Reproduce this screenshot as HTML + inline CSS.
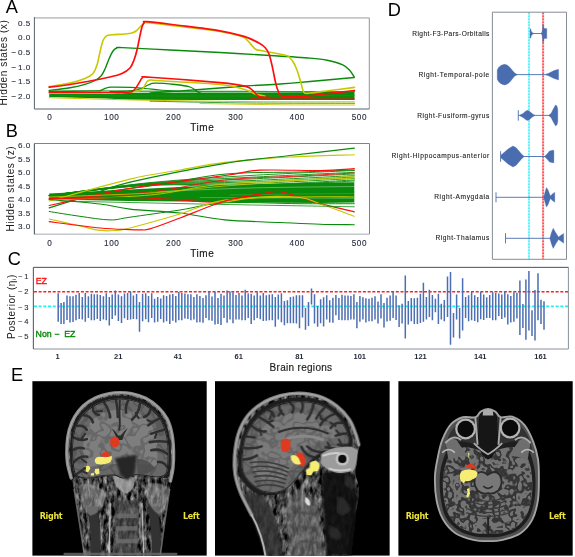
<!DOCTYPE html>
<html><head><meta charset="utf-8"><title>Figure</title>
<style>html,body{margin:0;padding:0;background:#fff;width:575px;height:557px;overflow:hidden}body{position:relative}</style>
</head><body>
<svg width="575" height="557" viewBox="0 0 575 557" style="position:absolute;left:0;top:0"><rect width="575" height="557" fill="#fff"/><text x="5.8" y="12.8" font-size="18.2" fill="#000" text-anchor="start" font-family="'Liberation Sans', sans-serif" >A</text><text x="5.7" y="136.7" font-size="18.2" fill="#000" text-anchor="start" font-family="'Liberation Sans', sans-serif" >B</text><text x="7.8" y="265.0" font-size="18.2" fill="#000" text-anchor="start" font-family="'Liberation Sans', sans-serif" >C</text><text x="387.8" y="16.1" font-size="18.2" fill="#000" text-anchor="start" font-family="'Liberation Sans', sans-serif" >D</text><text x="10.9" y="380.9" font-size="18.2" fill="#000" text-anchor="start" font-family="'Liberation Sans', sans-serif" >E</text><g id="A"><path d="M49.2,94 L105,94 L130,92.8 L200,92.6 L250,92.4 L300,92.2 L354.5,91.5 L354.5,100 L300,100 L250,100 L200,99.9 L130,99.8 L105,98.4 L49.2,97Z" fill="#0a8a0a"/><path d="M49.2,91.0 C57.7,91.0 86.5,90.9 100.0,90.9 C113.5,90.9 113.3,91.1 130.0,91.2 C146.7,91.3 162.6,91.4 200.0,91.4 C237.4,91.5 328.8,91.5 354.5,91.5" fill="none" stroke="#3a9a3a" stroke-width="1.2" stroke-linejoin="round" stroke-linecap="round" opacity="1"/><path d="M60.0,95.5 C83.3,95.6 150.9,96.0 200.0,96.0 C249.1,96.0 328.8,95.6 354.5,95.5" fill="none" stroke="#2f8f2f" stroke-width="0.6" stroke-linejoin="round" stroke-linecap="round" opacity="0.8"/><path d="M49.2,97.7 C65.2,98.1 111.5,99.6 145.0,100.2 C178.5,100.8 215.1,101.3 250.0,101.6 C284.9,101.9 337.1,101.8 354.5,101.8" fill="none" stroke="#c8c800" stroke-width="1.0" stroke-linejoin="round" stroke-linecap="round" opacity="1"/><path d="M150.0,101.2 C166.7,101.5 215.9,102.7 250.0,103.0 C284.1,103.3 337.1,103.2 354.5,103.3" fill="none" stroke="#0a8a0a" stroke-width="0.8" stroke-linejoin="round" stroke-linecap="round" opacity="1"/><path d="M200.0,103.5 C213.3,103.7 254.2,104.5 280.0,104.8 C305.8,105.0 342.1,105.0 354.5,105.0" fill="none" stroke="#c8c800" stroke-width="0.9" stroke-linejoin="round" stroke-linecap="round" opacity="1"/><path d="M250.0,98.8 C258.3,98.8 282.6,98.9 300.0,98.9 C317.4,98.9 345.4,98.9 354.5,98.9" fill="none" stroke="#ff0d0d" stroke-width="0.8" stroke-linejoin="round" stroke-linecap="round" opacity="1"/><path d="M49.2,91.5 C56.8,91.4 86.4,91.2 95.0,91.0 C103.6,90.8 99.2,90.7 101.0,90.2 C102.8,89.7 104.3,88.7 106.0,88.2 C107.7,87.7 106.8,87.2 111.0,87.1 C115.2,87.0 125.3,87.2 131.0,87.4 C136.7,87.6 140.2,88.1 145.0,88.5 C149.8,88.9 154.2,89.5 160.0,90.0 C165.8,90.5 176.7,91.2 180.0,91.5" fill="none" stroke="#0a8a0a" stroke-width="1.2" stroke-linejoin="round" stroke-linecap="round" opacity="1"/><path d="M110.0,91.5 C113.3,91.4 125.0,91.4 130.0,91.0 C135.0,90.6 137.0,90.0 140.0,89.0 C143.0,88.0 145.5,86.0 148.0,85.0 C150.5,84.0 150.5,83.3 155.0,83.2 C159.5,83.1 169.2,83.9 175.0,84.5 C180.8,85.1 186.2,85.8 190.0,87.0 C193.8,88.2 195.5,90.7 198.0,92.0 C200.5,93.3 203.8,94.5 205.0,95.0" fill="none" stroke="#0a8a0a" stroke-width="1.3" stroke-linejoin="round" stroke-linecap="round" opacity="1"/><path d="M150.0,93.0 C158.3,92.4 184.0,90.7 200.0,89.5 C216.0,88.3 232.5,86.9 245.8,86.0 C259.1,85.1 269.3,84.8 280.0,84.0 C290.7,83.2 297.6,82.6 310.0,81.5 C322.4,80.4 346.8,78.2 354.2,77.5" fill="none" stroke="#0a8a0a" stroke-width="1.3" stroke-linejoin="round" stroke-linecap="round" opacity="1"/><path d="M49.2,90.4 C52.7,90.0 64.0,88.8 70.0,87.8 C76.0,86.8 80.8,85.6 85.0,84.4 C89.2,83.2 92.3,81.9 95.0,80.5 C97.7,79.1 99.3,77.9 101.0,76.0 C102.7,74.1 103.7,71.8 105.0,69.0 C106.3,66.2 107.7,62.0 109.0,59.0 C110.3,56.0 111.7,52.8 113.0,51.0 C114.3,49.2 115.3,48.6 116.8,48.0 C118.3,47.4 113.1,47.3 122.0,47.6 C130.9,47.9 153.7,49.2 170.0,50.0 C186.3,50.8 203.3,51.6 220.0,52.5 C236.7,53.4 255.0,54.6 270.0,55.5 C285.0,56.4 300.5,57.3 310.0,58.1 C319.5,58.9 321.8,59.1 327.2,60.2 C332.6,61.3 338.5,63.0 342.3,64.7 C346.1,66.4 347.8,68.4 349.8,70.4 C351.8,72.5 353.5,75.9 354.2,77.0" fill="none" stroke="#0a8a0a" stroke-width="1.4" stroke-linejoin="round" stroke-linecap="round" opacity="1"/><path d="M120.0,93.0 C123.0,92.7 134.1,91.9 138.0,91.0 C141.9,90.1 141.9,89.2 143.6,87.5 C145.3,85.8 145.6,81.6 148.3,80.5 C151.0,79.4 148.1,80.1 160.0,80.8 C171.9,81.5 206.0,83.1 220.0,84.5 C234.0,85.9 238.2,87.6 244.0,89.2 C249.8,90.8 251.5,92.9 255.0,94.0 C258.5,95.1 263.3,95.7 265.0,96.0" fill="none" stroke="#c8c800" stroke-width="1.4" stroke-linejoin="round" stroke-linecap="round" opacity="1"/><path d="M49.2,92.7 C57.7,92.7 86.9,92.7 100.0,92.6 C113.1,92.5 122.3,92.6 128.0,92.2 C133.7,91.8 132.2,91.5 134.0,90.0 C135.8,88.5 137.6,85.1 139.0,83.0 C140.4,80.9 140.8,78.6 142.6,77.6 C144.4,76.6 137.1,76.4 150.0,77.2 C162.9,78.0 204.0,81.1 220.0,82.6 C236.0,84.1 240.2,85.0 245.8,86.4 C251.4,87.8 251.2,89.4 253.4,91.1 C255.6,92.8 256.2,95.4 259.0,96.5 C261.8,97.6 268.2,97.3 270.0,97.5" fill="none" stroke="#ff0d0d" stroke-width="1.6" stroke-linejoin="round" stroke-linecap="round" opacity="1"/><path d="M49.2,86.6 C52.7,86.0 64.0,84.3 70.0,83.0 C76.0,81.7 81.2,80.1 85.0,78.5 C88.8,76.9 91.0,75.8 93.0,73.5 C95.0,71.2 95.8,68.6 97.0,65.0 C98.2,61.4 99.0,56.1 100.0,52.0 C101.0,47.9 101.9,43.2 103.0,40.5 C104.1,37.8 105.0,36.8 106.5,35.8 C108.0,34.8 108.9,35.1 112.0,34.8 C115.1,34.5 121.7,34.3 125.0,34.0 C128.3,33.7 130.2,33.5 132.0,33.0 C133.8,32.5 134.7,32.0 136.0,31.0 C137.3,30.0 138.7,28.2 140.0,27.0 C141.3,25.8 142.3,24.2 143.6,23.5 C144.9,22.8 141.9,22.1 148.0,22.6 C154.1,23.1 168.0,25.0 180.0,26.5 C192.0,28.0 209.7,29.8 220.0,31.5 C230.3,33.2 237.3,34.9 242.0,36.5 C246.7,38.1 245.8,38.9 248.0,41.0 C250.2,43.1 253.0,47.4 255.3,49.0 C257.6,50.6 257.0,49.7 262.0,50.7 C267.0,51.8 280.8,54.1 285.5,55.3 C290.2,56.5 288.7,56.8 290.0,58.0 C291.3,59.2 292.3,60.5 293.5,62.5 C294.7,64.5 295.8,66.8 297.0,70.0 C298.2,73.2 299.4,78.0 300.6,81.7 C301.8,85.4 302.4,90.5 304.0,92.4 C305.6,94.3 305.7,93.3 310.0,93.0 C314.3,92.7 322.6,91.4 330.0,90.5 C337.4,89.6 350.4,87.9 354.5,87.4" fill="none" stroke="#c8c800" stroke-width="1.6" stroke-linejoin="round" stroke-linecap="round" opacity="1"/><path d="M49.2,87.2 C52.7,86.8 63.2,85.5 70.0,84.5 C76.8,83.5 83.3,82.2 90.0,81.0 C96.7,79.8 104.7,78.2 110.0,77.0 C115.3,75.8 118.7,75.0 122.0,73.5 C125.3,72.0 128.0,70.2 130.0,68.0 C132.0,65.8 132.8,63.0 134.0,60.0 C135.2,57.0 136.1,53.7 137.0,50.0 C137.9,46.3 138.7,41.8 139.5,38.0 C140.3,34.2 141.2,29.5 142.0,27.0 C142.8,24.5 143.2,23.9 144.0,23.0 C144.8,22.1 141.0,21.2 147.0,21.6 C153.0,22.0 167.8,24.0 180.0,25.5 C192.2,27.0 209.3,29.0 220.0,30.8 C230.7,32.6 237.5,34.4 244.0,36.4 C250.5,38.4 255.5,41.1 259.0,43.0 C262.5,44.9 263.3,45.7 265.0,47.5 C266.7,49.3 267.8,50.8 269.0,54.0 C270.2,57.2 271.3,62.3 272.3,66.6 C273.3,70.9 274.1,76.0 275.0,80.0 C275.9,84.0 276.7,87.8 278.0,90.5 C279.3,93.2 278.0,95.2 282.6,96.2 C287.2,97.2 299.3,96.5 305.5,96.2 C311.7,95.9 311.8,95.5 320.0,94.5 C328.2,93.5 348.8,91.2 354.5,90.5" fill="none" stroke="#ff0d0d" stroke-width="1.7" stroke-linejoin="round" stroke-linecap="round" opacity="1"/></g><line x1="34.4" y1="17.9" x2="369.3" y2="17.9" stroke="#c4c7ca" stroke-width="1.6"/><line x1="369.3" y1="17.9" x2="369.3" y2="109.0" stroke="#8e959c" stroke-width="1"/><path d="M34.4,17.099999999999998 V109.0 H369.3" fill="none" stroke="#5a616c" stroke-width="1"/><text x="30.7" y="25.5" font-size="8.1" fill="#242c3a" text-anchor="end" font-family="'Liberation Sans', sans-serif" letter-spacing="0.45" stroke="#242c3a" stroke-width="0.1">0.5</text><text x="30.7" y="40.3" font-size="8.1" fill="#242c3a" text-anchor="end" font-family="'Liberation Sans', sans-serif" letter-spacing="0.45" stroke="#242c3a" stroke-width="0.1">0.0</text><text x="30.7" y="55.1" font-size="8.1" fill="#242c3a" text-anchor="end" font-family="'Liberation Sans', sans-serif" letter-spacing="0.45" stroke="#242c3a" stroke-width="0.1"><tspan>−</tspan><tspan dx="1.4">0.5</tspan></text><text x="30.7" y="69.9" font-size="8.1" fill="#242c3a" text-anchor="end" font-family="'Liberation Sans', sans-serif" letter-spacing="0.45" stroke="#242c3a" stroke-width="0.1"><tspan>−</tspan><tspan dx="1.4">1.0</tspan></text><text x="30.7" y="84.30000000000001" font-size="8.1" fill="#242c3a" text-anchor="end" font-family="'Liberation Sans', sans-serif" letter-spacing="0.45" stroke="#242c3a" stroke-width="0.1"><tspan>−</tspan><tspan dx="1.4">1.5</tspan></text><text x="30.7" y="98.7" font-size="8.1" fill="#242c3a" text-anchor="end" font-family="'Liberation Sans', sans-serif" letter-spacing="0.45" stroke="#242c3a" stroke-width="0.1"><tspan>−</tspan><tspan dx="1.4">2.0</tspan></text><text x="49.800000000000004" y="119.7" font-size="8.2" fill="#242c3a" text-anchor="middle" font-family="'Liberation Sans', sans-serif" letter-spacing="0.5" stroke="#242c3a" stroke-width="0.1">0</text><text x="111.7" y="119.7" font-size="8.2" fill="#242c3a" text-anchor="middle" font-family="'Liberation Sans', sans-serif" letter-spacing="0.5" stroke="#242c3a" stroke-width="0.1">100</text><text x="173.7" y="119.7" font-size="8.2" fill="#242c3a" text-anchor="middle" font-family="'Liberation Sans', sans-serif" letter-spacing="0.5" stroke="#242c3a" stroke-width="0.1">200</text><text x="235.79999999999998" y="119.7" font-size="8.2" fill="#242c3a" text-anchor="middle" font-family="'Liberation Sans', sans-serif" letter-spacing="0.5" stroke="#242c3a" stroke-width="0.1">300</text><text x="297.2" y="119.7" font-size="8.2" fill="#242c3a" text-anchor="middle" font-family="'Liberation Sans', sans-serif" letter-spacing="0.5" stroke="#242c3a" stroke-width="0.1">400</text><text x="359.4" y="119.7" font-size="8.2" fill="#242c3a" text-anchor="middle" font-family="'Liberation Sans', sans-serif" letter-spacing="0.5" stroke="#242c3a" stroke-width="0.1">500</text><text x="202.3" y="130.5" font-size="10" fill="#1a1a1a" text-anchor="middle" font-family="'Liberation Sans', sans-serif" letter-spacing="0.5" stroke="#1a1a1a" stroke-width="0.15">Time</text><text x="0" y="0" font-size="10" fill="#1a1a1a" text-anchor="middle" font-family="'Liberation Sans', sans-serif" letter-spacing="0.6" transform="translate(7.3,62.5) rotate(-90)">Hidden states (x)</text><g id="B"><path d="M49.2,193.6 L90,191.5 L130,189.5 L180,187 L225,185 L280,183.5 L320,182.5 L354.3,182.2 L354.3,202.5 L320,203 L280,202.8 L225,202.2 L180,201.5 L130,201 L90,200.3 L49.2,199.4Z" fill="#0a8a0a"/><path d="M49.2,195.5 C66.0,193.4 116.5,186.0 150.0,182.6 C183.5,179.3 215.9,177.5 250.0,175.5 C284.1,173.5 336.9,171.3 354.3,170.5" fill="none" stroke="#0a8a0a" stroke-width="0.9" stroke-linejoin="round" stroke-linecap="round" opacity="1"/><path d="M49.2,195.5 C66.0,193.4 116.5,186.1 150.0,183.1 C183.5,180.0 215.9,179.1 250.0,177.3 C284.1,175.5 336.9,173.1 354.3,172.3" fill="none" stroke="#0a8a0a" stroke-width="0.9" stroke-linejoin="round" stroke-linecap="round" opacity="1"/><path d="M49.2,195.5 C66.0,193.5 116.5,186.2 150.0,183.5 C183.5,180.8 215.9,180.6 250.0,179.0 C284.1,177.4 336.9,174.8 354.3,174.0" fill="none" stroke="#0a8a0a" stroke-width="0.9" stroke-linejoin="round" stroke-linecap="round" opacity="1"/><path d="M49.2,195.5 C66.0,193.6 116.5,186.4 150.0,183.9 C183.5,181.4 215.9,182.0 250.0,180.6 C284.1,179.2 336.9,176.4 354.3,175.6" fill="none" stroke="#0a8a0a" stroke-width="0.9" stroke-linejoin="round" stroke-linecap="round" opacity="1"/><path d="M49.2,195.5 C66.0,193.6 116.5,186.5 150.0,184.2 C183.5,182.0 215.9,183.2 250.0,182.0 C284.1,180.8 336.9,177.8 354.3,177.0" fill="none" stroke="#0a8a0a" stroke-width="0.9" stroke-linejoin="round" stroke-linecap="round" opacity="1"/><path d="M49.2,195.5 C66.0,193.7 116.5,186.6 150.0,184.6 C183.5,182.6 215.9,184.5 250.0,183.5 C284.1,182.5 336.9,179.3 354.3,178.5" fill="none" stroke="#0a8a0a" stroke-width="0.9" stroke-linejoin="round" stroke-linecap="round" opacity="1"/><path d="M49.2,195.5 C66.0,193.8 116.5,186.8 150.0,185.0 C183.5,183.2 215.9,185.8 250.0,185.0 C284.1,184.2 336.9,180.8 354.3,180.0" fill="none" stroke="#0a8a0a" stroke-width="0.9" stroke-linejoin="round" stroke-linecap="round" opacity="1"/><path d="M49.2,195.5 C66.0,193.8 116.5,186.8 150.0,185.2 C183.5,183.7 215.9,186.7 250.0,186.0 C284.1,185.3 336.9,181.8 354.3,181.0" fill="none" stroke="#0a8a0a" stroke-width="0.9" stroke-linejoin="round" stroke-linecap="round" opacity="1"/><path d="M150.0,192.0 C166.7,191.3 216.0,188.9 250.0,188.0 C284.0,187.1 336.7,186.8 354.0,186.5" fill="none" stroke="#fff" stroke-width="0.5" stroke-linejoin="round" stroke-linecap="round" opacity="0.7"/><path d="M200.0,197.5 C213.3,197.6 254.3,197.8 280.0,198.0 C305.7,198.2 341.7,198.4 354.0,198.5" fill="none" stroke="#fff" stroke-width="0.4" stroke-linejoin="round" stroke-linecap="round" opacity="0.6"/><path d="M230.0,195.0 C241.7,194.8 279.3,194.2 300.0,194.0 C320.7,193.8 345.0,193.6 354.0,193.5" fill="none" stroke="#9fd39f" stroke-width="0.4" stroke-linejoin="round" stroke-linecap="round" opacity="0.6"/><path d="M49.2,198.0 C66.0,196.0 120.7,190.0 150.0,186.0 C179.3,182.0 200.0,176.4 225.0,174.1 C250.0,171.8 278.4,172.7 300.0,172.0 C321.6,171.3 345.2,170.3 354.3,170.0" fill="none" stroke="#0a8a0a" stroke-width="1.0" stroke-linejoin="round" stroke-linecap="round" opacity="1"/><path d="M49.2,201.0 C62.7,197.3 108.2,184.3 130.0,179.1 C151.8,173.9 164.2,172.8 180.0,170.0 C195.8,167.2 206.7,164.6 225.0,162.4 C243.3,160.2 268.4,158.3 290.0,157.0 C311.6,155.7 343.6,155.1 354.3,154.7" fill="none" stroke="#c8c800" stroke-width="1.1" stroke-linejoin="round" stroke-linecap="round" opacity="1"/><path d="M49.2,207.9 C56.0,205.8 76.5,199.3 90.0,195.0 C103.5,190.7 107.5,187.5 130.0,182.2 C152.5,176.9 198.3,167.8 225.0,163.3 C251.7,158.9 268.4,158.0 290.0,155.5 C311.6,153.0 343.6,149.3 354.3,148.1" fill="none" stroke="#0a8a0a" stroke-width="1.2" stroke-linejoin="round" stroke-linecap="round" opacity="1"/><path d="M49.2,205.5 C56.0,204.0 76.5,199.4 90.0,196.5 C103.5,193.6 107.5,191.8 130.0,188.3 C152.5,184.8 203.3,178.5 225.0,175.5 C246.7,172.5 244.2,171.0 260.0,170.2 C275.8,169.4 304.3,170.8 320.0,170.5 C335.7,170.2 348.6,169.0 354.3,168.7" fill="none" stroke="#ff0d0d" stroke-width="1.2" stroke-linejoin="round" stroke-linecap="round" opacity="1"/><path d="M49.2,198.9 C66.0,197.8 120.7,195.2 150.0,192.0 C179.3,188.8 200.0,182.7 225.0,180.0 C250.0,177.3 278.4,177.2 300.0,176.0 C321.6,174.8 345.2,173.5 354.3,173.0" fill="none" stroke="#ff0d0d" stroke-width="0.9" stroke-linejoin="round" stroke-linecap="round" opacity="1"/><path d="M49.2,200.0 C66.0,199.2 120.7,197.7 150.0,195.0 C179.3,192.3 190.9,186.8 225.0,184.0 C259.1,181.2 332.8,179.0 354.3,178.0" fill="none" stroke="#c8c800" stroke-width="0.9" stroke-linejoin="round" stroke-linecap="round" opacity="1"/><path d="M49.2,197.0 C66.0,196.3 120.7,194.8 150.0,193.0 C179.3,191.2 190.9,188.8 225.0,186.0 C259.1,183.2 332.8,177.7 354.3,176.0" fill="none" stroke="#c8c800" stroke-width="0.8" stroke-linejoin="round" stroke-linecap="round" opacity="1"/><path d="M49.2,198.9 C62.7,198.7 108.2,197.3 130.0,197.5 C151.8,197.7 165.0,199.2 180.0,200.0 C195.0,200.8 208.3,202.7 220.0,202.0 C231.7,201.3 242.3,197.5 250.0,196.0 C257.7,194.5 261.2,193.8 266.0,193.0 C270.8,192.2 273.3,190.8 279.0,191.5 C284.7,192.2 293.2,195.0 300.0,197.0 C306.8,199.0 310.9,201.2 320.0,203.7 C329.1,206.2 348.6,210.5 354.3,211.8" fill="none" stroke="#ff0d0d" stroke-width="1.2" stroke-linejoin="round" stroke-linecap="round" opacity="1"/><path d="M220.0,203.0 C226.7,202.0 246.7,197.9 260.0,197.0 C273.3,196.1 290.0,196.4 300.0,197.5 C310.0,198.6 310.9,200.6 320.0,203.7 C329.1,206.8 348.6,214.2 354.3,216.3" fill="none" stroke="#c8c800" stroke-width="1.1" stroke-linejoin="round" stroke-linecap="round" opacity="1"/><path d="M49.2,199.5 C57.7,200.2 86.5,202.4 100.0,204.0 C113.5,205.6 116.7,207.6 130.0,209.1 C143.3,210.6 164.2,211.2 180.0,213.0 C195.8,214.8 208.3,218.3 225.0,219.9 C241.7,221.5 264.2,221.8 280.0,222.5 C295.8,223.2 307.6,223.8 320.0,224.2 C332.4,224.6 348.6,224.6 354.3,224.7" fill="none" stroke="#0a8a0a" stroke-width="1.1" stroke-linejoin="round" stroke-linecap="round" opacity="1"/><path d="M49.2,211.5 C54.3,212.3 69.9,214.9 80.0,216.3 C90.1,217.7 101.7,219.8 110.0,219.9 C118.3,220.1 118.3,218.8 130.0,217.2 C141.7,215.5 164.2,212.4 180.0,210.0 C195.8,207.6 205.0,203.9 225.0,202.8 C245.0,201.8 278.4,203.5 300.0,203.7 C321.6,203.8 345.2,203.7 354.3,203.7" fill="none" stroke="#0a8a0a" stroke-width="1.0" stroke-linejoin="round" stroke-linecap="round" opacity="1"/><path d="M60.0,201.0 C83.3,201.5 150.9,203.0 200.0,204.0 C249.1,205.0 328.6,206.3 354.3,206.8" fill="none" stroke="#0a8a0a" stroke-width="0.8" stroke-linejoin="round" stroke-linecap="round" opacity="1"/><path d="M49.2,219.0 C54.3,220.2 71.5,224.1 80.0,226.0 C88.5,227.9 94.2,229.7 100.0,230.4 C105.8,231.2 110.0,230.9 115.0,230.5 C120.0,230.1 119.2,230.8 130.0,228.0 C140.8,225.2 164.2,218.7 180.0,214.0 C195.8,209.3 205.0,202.9 225.0,200.1 C245.0,197.3 278.4,197.5 300.0,197.0 C321.6,196.5 345.2,197.0 354.3,197.0" fill="none" stroke="#c8c800" stroke-width="1.1" stroke-linejoin="round" stroke-linecap="round" opacity="1"/><path d="M49.2,221.7 C57.7,222.8 86.5,226.7 100.0,228.0 C113.5,229.3 123.3,229.3 130.0,229.6 C136.7,229.9 136.7,229.9 140.0,229.8 C143.3,229.7 143.3,230.9 150.0,228.9 C156.7,226.9 167.5,222.7 180.0,218.0 C192.5,213.3 211.7,205.0 225.0,201.0 C238.3,197.0 254.2,195.2 260.0,194.0" fill="none" stroke="#ff0d0d" stroke-width="1.2" stroke-linejoin="round" stroke-linecap="round" opacity="1"/></g><path d="M34.4,234.3 V143.5 H369.5 V234.3" fill="none" stroke="#7c838c" stroke-width="1"/><line x1="34.4" y1="234.3" x2="369.5" y2="234.3" stroke="#c4c8cc" stroke-width="1.6"/><line x1="34.4" y1="143.5" x2="34.4" y2="234.3" stroke="#575f6a" stroke-width="1"/><text x="30.7" y="148.3" font-size="8.1" fill="#242c3a" text-anchor="end" font-family="'Liberation Sans', sans-serif" letter-spacing="0.45" stroke="#242c3a" stroke-width="0.1">6.0</text><text x="30.7" y="161.70000000000002" font-size="8.1" fill="#242c3a" text-anchor="end" font-family="'Liberation Sans', sans-serif" letter-spacing="0.45" stroke="#242c3a" stroke-width="0.1">5.5</text><text x="30.7" y="175.1" font-size="8.1" fill="#242c3a" text-anchor="end" font-family="'Liberation Sans', sans-serif" letter-spacing="0.45" stroke="#242c3a" stroke-width="0.1">5.0</text><text x="30.7" y="188.6" font-size="8.1" fill="#242c3a" text-anchor="end" font-family="'Liberation Sans', sans-serif" letter-spacing="0.45" stroke="#242c3a" stroke-width="0.1">4.5</text><text x="30.7" y="202.0" font-size="8.1" fill="#242c3a" text-anchor="end" font-family="'Liberation Sans', sans-serif" letter-spacing="0.45" stroke="#242c3a" stroke-width="0.1">4.0</text><text x="30.7" y="215.6" font-size="8.1" fill="#242c3a" text-anchor="end" font-family="'Liberation Sans', sans-serif" letter-spacing="0.45" stroke="#242c3a" stroke-width="0.1">3.5</text><text x="30.7" y="228.9" font-size="8.1" fill="#242c3a" text-anchor="end" font-family="'Liberation Sans', sans-serif" letter-spacing="0.45" stroke="#242c3a" stroke-width="0.1">3.0</text><text x="49.800000000000004" y="245.6" font-size="8.2" fill="#242c3a" text-anchor="middle" font-family="'Liberation Sans', sans-serif" letter-spacing="0.5" stroke="#242c3a" stroke-width="0.1">0</text><text x="111.7" y="245.6" font-size="8.2" fill="#242c3a" text-anchor="middle" font-family="'Liberation Sans', sans-serif" letter-spacing="0.5" stroke="#242c3a" stroke-width="0.1">100</text><text x="173.7" y="245.6" font-size="8.2" fill="#242c3a" text-anchor="middle" font-family="'Liberation Sans', sans-serif" letter-spacing="0.5" stroke="#242c3a" stroke-width="0.1">200</text><text x="235.79999999999998" y="245.6" font-size="8.2" fill="#242c3a" text-anchor="middle" font-family="'Liberation Sans', sans-serif" letter-spacing="0.5" stroke="#242c3a" stroke-width="0.1">300</text><text x="297.2" y="245.6" font-size="8.2" fill="#242c3a" text-anchor="middle" font-family="'Liberation Sans', sans-serif" letter-spacing="0.5" stroke="#242c3a" stroke-width="0.1">400</text><text x="359.4" y="245.6" font-size="8.2" fill="#242c3a" text-anchor="middle" font-family="'Liberation Sans', sans-serif" letter-spacing="0.5" stroke="#242c3a" stroke-width="0.1">500</text><text x="202.3" y="256.5" font-size="10" fill="#1a1a1a" text-anchor="middle" font-family="'Liberation Sans', sans-serif" letter-spacing="0.5" stroke="#1a1a1a" stroke-width="0.15">Time</text><text x="0" y="0" font-size="10" fill="#1a1a1a" text-anchor="middle" font-family="'Liberation Sans', sans-serif" letter-spacing="0.6" transform="translate(13.7,188.6) rotate(-90)">Hidden states (z)</text><g id="C"><line x1="33.9" y1="291.8" x2="568.4" y2="291.8" stroke="#ff2020" stroke-width="1.6" stroke-dasharray="3 1.7"/><line x1="33.9" y1="306.4" x2="568.4" y2="306.4" stroke="#20f0f0" stroke-width="1.6" stroke-dasharray="3 1.7"/><path d="M58.2,293.3V321.8M61.1,303.1V323.9M63.9,302.1V323.9M67.0,295.6V320.0M70.0,296.3V322.5M73.0,296.3V322.0M76.0,294.7V320.3M79.2,293.0V318.9M82.3,296.9V319.6M85.3,293.0V321.8M88.4,296.2V317.9M91.4,293.7V320.3M94.3,294.2V320.3M97.3,294.2V318.9M100.3,294.9V321.0M103.4,296.2V319.6M106.3,293.3V320.3M109.3,296.9V325.6M112.2,294.5V318.9M115.3,290.6V315.6M118.4,294.5V321.0M121.5,296.3V322.9M124.5,293.4V318.2M127.6,293.0V319.9M130.6,292.0V319.6M133.4,295.6V318.9M136.6,294.0V319.3M139.5,302.1V331.8M142.6,293.7V321.3M145.7,293.3V319.3M148.5,295.9V322.2M151.7,293.3V317.9M154.6,298.8V322.5M157.7,296.9V321.8M160.7,298.4V318.9M163.6,295.2V322.5M166.6,295.9V321.3M169.8,294.5V323.9M172.8,294.0V320.7M175.8,295.9V322.5M178.8,292.0V320.3M181.8,293.0V320.3M184.9,293.4V318.4M187.9,294.2V318.9M190.9,294.2V320.3M193.9,296.9V319.6M196.9,294.2V322.5M199.9,295.9V322.2M203.0,298.0V322.8M206.0,295.2V317.9M209.0,291.3V320.3M212.0,296.6V320.7M215.0,292.0V324.6M218.0,298.0V323.9M221.0,293.7V325.0M224.0,295.6V317.9M227.1,290.6V322.8M230.0,291.6V319.6M233.0,292.3V323.2M236.0,294.9V319.6M239.0,293.0V319.6M242.0,295.6V320.3M245.2,289.7V320.3M248.2,293.4V317.9M251.2,293.7V323.9M254.2,295.6V320.3M257.2,292.3V317.9M260.3,295.6V319.3M263.3,293.0V321.0M266.3,295.2V320.7M269.3,294.5V320.3M272.3,294.2V320.3M275.3,296.9V326.8M278.3,294.5V319.6M281.4,293.3V322.2M284.4,300.9V325.3M287.4,300.2V323.2M290.4,296.9V323.2M293.4,296.6V323.2M296.4,295.2V323.6M299.5,295.2V328.2M302.5,295.2V317.4M305.5,308.1V329.7M308.5,302.1V326.1M311.5,288.4V304.5M314.5,294.2V323.6M317.6,306.0V326.8M320.6,299.2V323.2M323.6,297.3V326.5M326.7,295.2V319.5M329.7,300.2V322.5M332.9,297.8V322.8M335.9,294.9V315.3M338.9,298.0V319.9M342.0,294.7V320.3M345.0,295.6V320.3M348.0,295.6V320.3M350.9,295.9V319.6M353.9,294.2V319.6M356.9,302.1V328.2M359.9,295.9V321.8M362.9,297.3V319.6M365.9,298.3V322.5M369.0,298.8V321.3M372.0,297.8V321.3M375.0,296.3V319.6M378.0,301.4V323.6M381.0,294.3V318.6M384.0,303.1V327.6M387.0,297.8V321.5M390.1,295.6V320.7M393.1,292.0V317.9M396.1,295.6V319.9M399.1,305.2V327.1M402.1,303.8V323.6M405.3,275.5V338.6M408.3,300.9V324.6M411.3,298.0V321.3M414.3,298.3V323.9M417.4,297.8V323.9M420.4,293.7V322.9M423.4,282.7V321.8M426.4,296.9V319.6M429.4,289.7V317.0M432.4,294.9V320.3M435.4,298.8V312.2M438.4,293.7V323.9M441.3,303.8V319.6M444.3,299.9V321.3M447.5,276.5V317.0M450.5,271.9V344.7M453.5,313.1V337.6M456.6,294.5V319.6M459.6,308.1V338.6M462.6,278.2V330.4M465.6,296.9V317.9M468.6,295.2V321.3M471.6,292.0V320.3M474.7,295.2V321.0M477.7,296.9V322.2M480.7,292.0V319.3M483.7,294.5V319.9M486.7,297.3V317.9M489.7,294.9V317.9M492.7,292.3V320.3M495.7,293.0V320.3M498.8,293.4V316.0M501.8,294.5V318.9M504.8,290.9V317.4M507.8,294.2V324.6M510.8,295.9V322.5M513.9,292.3V321.8M516.9,292.7V318.4M519.9,280.5V335.1M522.9,304.1V327.9M525.9,279.4V339.7M528.9,271.0V330.4M532.0,310.3V336.1M535.0,290.1V340.4M538.0,273.2V320.3M541.0,299.8V323.9M544.0,301.2V329.7" stroke="#4c6eb2" stroke-width="1.5" fill="none"/></g><path d="M33.4,267.4 H568.4 V349.0 H33.4 Z" fill="none" stroke="#8a919a" stroke-width="1"/><path d="M33.4,349.0 V267.4 H568.4" fill="none" stroke="#5c6470" stroke-width="1"/><text x="28.9" y="278.8" font-size="7.6" fill="#242c3a" text-anchor="end" font-family="'Liberation Sans', sans-serif" letter-spacing="0.45" stroke="#242c3a" stroke-width="0.1"><tspan>−</tspan><tspan dx="1.4">1</tspan></text><text x="28.9" y="294.1" font-size="7.6" fill="#242c3a" text-anchor="end" font-family="'Liberation Sans', sans-serif" letter-spacing="0.45" stroke="#242c3a" stroke-width="0.1"><tspan>−</tspan><tspan dx="1.4">2</tspan></text><text x="28.9" y="309.5" font-size="7.6" fill="#242c3a" text-anchor="end" font-family="'Liberation Sans', sans-serif" letter-spacing="0.45" stroke="#242c3a" stroke-width="0.1"><tspan>−</tspan><tspan dx="1.4">3</tspan></text><text x="28.9" y="324.40000000000003" font-size="7.6" fill="#242c3a" text-anchor="end" font-family="'Liberation Sans', sans-serif" letter-spacing="0.45" stroke="#242c3a" stroke-width="0.1"><tspan>−</tspan><tspan dx="1.4">4</tspan></text><text x="28.9" y="339.40000000000003" font-size="7.6" fill="#242c3a" text-anchor="end" font-family="'Liberation Sans', sans-serif" letter-spacing="0.45" stroke="#242c3a" stroke-width="0.1"><tspan>−</tspan><tspan dx="1.4">5</tspan></text><text x="57.699999999999996" y="358.9" font-size="7.5" fill="#242c3a" text-anchor="middle" font-family="'Liberation Sans', sans-serif" font-weight="bold">1</text><text x="118.2" y="358.9" font-size="7.5" fill="#242c3a" text-anchor="middle" font-family="'Liberation Sans', sans-serif" font-weight="bold">21</text><text x="178.0" y="358.9" font-size="7.5" fill="#242c3a" text-anchor="middle" font-family="'Liberation Sans', sans-serif" font-weight="bold">41</text><text x="238.70000000000002" y="358.9" font-size="7.5" fill="#242c3a" text-anchor="middle" font-family="'Liberation Sans', sans-serif" font-weight="bold">61</text><text x="299.3" y="358.9" font-size="7.5" fill="#242c3a" text-anchor="middle" font-family="'Liberation Sans', sans-serif" font-weight="bold">81</text><text x="359.8" y="358.9" font-size="7.5" fill="#242c3a" text-anchor="middle" font-family="'Liberation Sans', sans-serif" font-weight="bold">101</text><text x="420.5" y="358.9" font-size="7.5" fill="#242c3a" text-anchor="middle" font-family="'Liberation Sans', sans-serif" font-weight="bold">121</text><text x="480.3" y="358.9" font-size="7.5" fill="#242c3a" text-anchor="middle" font-family="'Liberation Sans', sans-serif" font-weight="bold">141</text><text x="540.5" y="358.9" font-size="7.5" fill="#242c3a" text-anchor="middle" font-family="'Liberation Sans', sans-serif" font-weight="bold">161</text><text x="301" y="371" font-size="10" fill="#1a1a1a" text-anchor="middle" font-family="'Liberation Sans', sans-serif" letter-spacing="0.3" stroke="#1a1a1a" stroke-width="0.15">Brain regions</text><text x="35.7" y="283.5" font-size="8.8" fill="#ff1010" text-anchor="start" font-family="'Liberation Sans', sans-serif" stroke="#ff1010" stroke-width="0.35">EZ</text><text x="35.6" y="336.5" font-size="8.8" fill="#0a8a0a" text-anchor="start" font-family="'Liberation Sans', sans-serif" xml:space="preserve" stroke="#0a8a0a" stroke-width="0.35">Non −  EZ</text><text x="0" y="0" font-size="10" fill="#1a1a1a" text-anchor="middle" font-family="'Liberation Sans', sans-serif" letter-spacing="0.6" transform="translate(14.5,306.5) rotate(-90)">Posterior (η<tspan font-size="6" dy="1.5">i</tspan><tspan dy="-1.5">)</tspan></text><g id="D"><line x1="529" y1="12.2" x2="529" y2="259.3" stroke="#5af4fc" stroke-width="2" stroke-dasharray="2.2 0.8"/><line x1="543.1" y1="12.2" x2="543.1" y2="259.3" stroke="#ff5a5a" stroke-width="2" stroke-dasharray="2.2 0.8"/><line x1="530.4" y1="33.5" x2="543" y2="33.5" stroke="#4a6db0" stroke-width="0.9"/><path d="M530.0,28.5 L530.6,29.0 L531.5,31.5 L532.5,32.7 L533.5,33.1 L533.5,33.9 L532.5,34.3 L531.5,35.5 L530.6,38.0 L530.0,38.5Z" fill="#4a6db0" stroke="#4a6db0" stroke-width="0.3"/><path d="M541.5,33.1 L542.3,30.5 L542.9,24.0 L543.6,25.5 L544.0,28.5 L546.8,28.5 L546.8,33.2 L546.8,33.8 L546.8,38.5 L544.0,38.5 L543.6,41.5 L542.9,43.0 L542.3,36.5 L541.5,33.9Z" fill="#4a6db0" stroke="#4a6db0" stroke-width="0.3"/><line x1="515" y1="74.6" x2="548" y2="74.6" stroke="#4a6db0" stroke-width="0.9"/><path d="M497.2,69.9 L498.5,67.6 L500.5,65.8 L502.5,64.8 L504.6,64.3 L506.5,64.7 L508.5,66.0 L510.5,68.0 L512.5,70.4 L514.3,72.6 L515.8,73.8 L517.0,74.1 L517.0,75.1 L515.8,75.4 L514.3,76.6 L512.5,78.8 L510.5,81.2 L508.5,83.2 L506.5,84.5 L504.6,84.9 L502.5,84.4 L500.5,83.4 L498.5,81.6 L497.2,79.3Z" fill="#4a6db0" stroke="#4a6db0" stroke-width="0.3"/><path d="M546.0,74.1 L548.0,73.6 L551.0,72.1 L554.0,70.6 L558.6,69.3 L558.6,74.3 L558.6,74.9 L558.6,79.9 L554.0,78.6 L551.0,77.1 L548.0,75.6 L546.0,75.1Z" fill="#4a6db0" stroke="#4a6db0" stroke-width="0.3"/><line x1="518.3" y1="115.4" x2="551" y2="115.4" stroke="#4a6db0" stroke-width="0.9"/><line x1="518.3" y1="110.2" x2="518.3" y2="120.60000000000001" stroke="#4a6db0" stroke-width="0.9"/><path d="M520.0,114.9 L523.0,113.4 L525.5,111.2 L527.3,110.3 L529.0,110.9 L531.0,112.6 L533.0,114.2 L534.5,114.9 L534.5,115.9 L533.0,116.6 L531.0,118.2 L529.0,119.9 L527.3,120.5 L525.5,119.6 L523.0,117.4 L520.0,115.9Z" fill="#4a6db0" stroke="#4a6db0" stroke-width="0.3"/><path d="M549.0,114.9 L551.0,113.4 L553.0,109.4 L555.4,105.0 L557.0,105.9 L557.8,109.4 L557.8,115.1 L557.8,115.7 L557.8,121.4 L557.0,124.9 L555.4,125.8 L553.0,121.4 L551.0,117.4 L549.0,115.9Z" fill="#4a6db0" stroke="#4a6db0" stroke-width="0.3"/><line x1="500.6" y1="156.5" x2="547" y2="156.5" stroke="#4a6db0" stroke-width="0.9"/><line x1="500.6" y1="151.2" x2="500.6" y2="161.8" stroke="#4a6db0" stroke-width="0.9"/><path d="M501.0,155.0 L504.0,152.5 L508.0,149.0 L512.9,146.0 L516.0,147.5 L519.0,151.0 L521.5,154.0 L523.5,155.7 L523.5,157.3 L521.5,159.0 L519.0,162.0 L516.0,165.5 L512.9,167.0 L508.0,164.0 L504.0,160.5 L501.0,158.0Z" fill="#4a6db0" stroke="#4a6db0" stroke-width="0.3"/><path d="M545.0,156.0 L547.0,154.0 L549.5,151.0 L552.5,150.2 L553.9,150.3 L553.9,156.2 L553.9,156.8 L553.9,162.7 L552.5,162.8 L549.5,162.0 L547.0,159.0 L545.0,157.0Z" fill="#4a6db0" stroke="#4a6db0" stroke-width="0.3"/><line x1="496" y1="197.3" x2="545" y2="197.3" stroke="#4a6db0" stroke-width="0.9"/><line x1="496" y1="192.3" x2="496" y2="202.3" stroke="#4a6db0" stroke-width="0.9"/><path d="M543.8,196.7 L545.0,192.3 L546.4,187.5 L548.0,189.8 L550.4,196.1 L552.0,194.3 L554.8,192.3 L554.8,197.0 L554.8,197.6 L554.8,202.3 L552.0,200.3 L550.4,198.5 L548.0,204.8 L546.4,207.1 L545.0,202.3 L543.8,197.9Z" fill="#4a6db0" stroke="#4a6db0" stroke-width="0.3"/><line x1="505.5" y1="238.3" x2="551" y2="238.3" stroke="#4a6db0" stroke-width="0.9"/><line x1="505.5" y1="233.20000000000002" x2="505.5" y2="243.4" stroke="#4a6db0" stroke-width="0.9"/><path d="M550.0,237.7 L551.5,232.3 L553.2,228.2 L555.5,232.3 L558.5,237.0 L561.0,235.3 L563.7,233.4 L563.7,238.0 L563.7,238.6 L563.7,243.2 L561.0,241.3 L558.5,239.6 L555.5,244.3 L553.2,248.4 L551.5,244.3 L550.0,238.9Z" fill="#4a6db0" stroke="#4a6db0" stroke-width="0.3"/></g><path d="M492.4,12.2 H566.5 V259.3 H492.4 Z" fill="none" stroke="#858c95" stroke-width="1"/><text x="489.8" y="35.7" font-size="6.6" fill="#1a1a1a" text-anchor="end" font-family="'Liberation Sans', sans-serif" letter-spacing="0.44" stroke="#1a1a1a" stroke-width="0.1">Right-F3-Pars-Orbitalis</text><text x="489.8" y="76.8" font-size="6.6" fill="#1a1a1a" text-anchor="end" font-family="'Liberation Sans', sans-serif" letter-spacing="0.63" stroke="#1a1a1a" stroke-width="0.1">Right-Temporal-pole</text><text x="489.8" y="117.7" font-size="6.6" fill="#1a1a1a" text-anchor="end" font-family="'Liberation Sans', sans-serif" letter-spacing="0.55" stroke="#1a1a1a" stroke-width="0.1">Right-Fusiform-gyrus</text><text x="489.8" y="158.3" font-size="6.6" fill="#1a1a1a" text-anchor="end" font-family="'Liberation Sans', sans-serif" letter-spacing="0.61" stroke="#1a1a1a" stroke-width="0.1">Right-Hippocampus-anterior</text><text x="489.8" y="199.4" font-size="6.6" fill="#1a1a1a" text-anchor="end" font-family="'Liberation Sans', sans-serif" letter-spacing="0.62" stroke="#1a1a1a" stroke-width="0.1">Right-Amygdala</text><text x="489.8" y="240.2" font-size="6.6" fill="#1a1a1a" text-anchor="end" font-family="'Liberation Sans', sans-serif" letter-spacing="0.56" stroke="#1a1a1a" stroke-width="0.1">Right-Thalamus</text><g id="E"><defs><filter id="blur1" x="-10%" y="-10%" width="120%" height="120%"><feGaussianBlur stdDeviation="2"/></filter><filter id="blur2" x="-10%" y="-10%" width="120%" height="120%"><feGaussianBlur stdDeviation="4"/></filter><filter id="neck" x="0" y="0" width="100%" height="100%" color-interpolation-filters="sRGB">
 <feTurbulence type="fractalNoise" baseFrequency="0.08 0.035" numOctaves="3" seed="4" result="n"/>
 <feColorMatrix in="n" type="matrix" values="1.2 0 0 0 -0.33  1.2 0 0 0 -0.33  1.2 0 0 0 -0.33  0 0 0 0 1" result="g"/>
 <feComposite in="g" in2="SourceAlpha" operator="in"/>
</filter><filter id="neck2" x="0" y="0" width="100%" height="100%" color-interpolation-filters="sRGB">
 <feTurbulence type="fractalNoise" baseFrequency="0.07 0.035" numOctaves="3" seed="9" result="n"/>
 <feColorMatrix in="n" type="matrix" values="1.1 0 0 0 -0.27  1.1 0 0 0 -0.27  1.1 0 0 0 -0.27  0 0 0 0 1" result="g"/>
 <feComposite in="g" in2="SourceAlpha" operator="in"/>
</filter><filter id="brainm" x="0" y="0" width="100%" height="100%" color-interpolation-filters="sRGB">
 <feTurbulence type="fractalNoise" baseFrequency="0.08" numOctaves="2" seed="5" result="n"/>
 <feColorMatrix in="n" type="matrix" values="0.5 0 0 0 0.2  0.5 0 0 0 0.2  0.5 0 0 0 0.2  0 0 0 0 1" result="g"/>
 <feComposite in="g" in2="SourceAlpha" operator="in"/>
</filter><filter id="gy1" x="0" y="0" width="100%" height="100%" color-interpolation-filters="sRGB">
 <feTurbulence type="fractalNoise" baseFrequency="0.028" numOctaves="2" seed="7" result="n"/>
 <feColorMatrix in="n" type="matrix" values="0 0 0 0 0  0 0 0 0 0  0 0 0 0 0  1 0 0 0 0" result="l"/>
 <feComponentTransfer in="l" result="band"><feFuncA type="table" tableValues="0 0 0 0 0 0 0 0.9 0.9 0 0 0 0 0 0 0 0 0"/></feComponentTransfer>
 <feGaussianBlur in="band" stdDeviation="1.6" result="bb"/>
 <feFlood flood-color="#383838"/>
 <feComposite in2="bb" operator="in" result="dk"/>
 <feComposite in="dk" in2="SourceAlpha" operator="in"/>
</filter><filter id="gy2" x="0" y="0" width="100%" height="100%" color-interpolation-filters="sRGB">
 <feTurbulence type="fractalNoise" baseFrequency="0.03" numOctaves="2" seed="11" result="n"/>
 <feColorMatrix in="n" type="matrix" values="0 0 0 0 0  0 0 0 0 0  0 0 0 0 0  1 0 0 0 0" result="l"/>
 <feComponentTransfer in="l" result="band"><feFuncA type="table" tableValues="0 0 0 0 0 0 0 0.9 0.9 0 0 0 0 0 0 0 0 0"/></feComponentTransfer>
 <feGaussianBlur in="band" stdDeviation="1.6" result="bb"/>
 <feFlood flood-color="#383838"/>
 <feComposite in2="bb" operator="in" result="dk"/>
 <feComposite in="dk" in2="SourceAlpha" operator="in"/>
</filter><filter id="gy3" x="0" y="0" width="100%" height="100%" color-interpolation-filters="sRGB">
 <feTurbulence type="fractalNoise" baseFrequency="0.04" numOctaves="2" seed="13" result="n"/>
 <feColorMatrix in="n" type="matrix" values="0 0 0 0 0  0 0 0 0 0  0 0 0 0 0  1 0 0 0 0" result="l"/>
 <feComponentTransfer in="l" result="band"><feFuncA type="table" tableValues="0 0 0 0 0 0 0.9 1 0.9 0 0 0 0 0.8 0.8 0 0 0"/></feComponentTransfer>
 <feGaussianBlur in="band" stdDeviation="1.6" result="bb"/>
 <feFlood flood-color="#333333"/>
 <feComposite in2="bb" operator="in" result="dk"/>
 <feComposite in="dk" in2="SourceAlpha" operator="in"/>
</filter><clipPath id="c1"><rect x="32.4" y="381.2" width="174.3" height="174.4"/></clipPath><clipPath id="c2"><rect x="215.0" y="381.2" width="174.65" height="174.4"/></clipPath><clipPath id="c3"><rect x="398.4" y="381.2" width="174.3" height="174.4"/></clipPath></defs><rect x="32.4" y="381.2" width="174.30" height="174.4" fill="#000"/><rect x="215.0" y="381.2" width="174.65" height="174.4" fill="#000"/><rect x="398.4" y="381.2" width="174.30" height="174.4" fill="#000"/><g clip-path="url(#c1)"><g transform="translate(32,380) scale(0.31586)"><path d="M164.0,556.0 C162.5,541.7 158.5,496.0 155.0,470.0 C151.5,444.0 146.7,420.8 143.0,400.0 C139.3,379.2 136.5,360.8 133.0,345.0 C129.5,329.2 125.5,319.2 122.0,305.0 C118.5,290.8 114.0,275.8 112.0,260.0 C110.0,244.2 109.5,226.7 110.0,210.0 C110.5,193.3 111.3,175.8 115.0,160.0 C118.7,144.2 124.5,128.3 132.0,115.0 C139.5,101.7 148.7,90.0 160.0,80.0 C171.3,70.0 185.8,61.7 200.0,55.0 C214.2,48.3 232.0,43.0 245.0,40.0 C258.0,37.0 266.3,37.0 278.0,37.0 C289.7,37.0 301.0,36.8 315.0,40.0 C329.0,43.2 347.5,48.5 362.0,56.0 C376.5,63.5 390.7,74.0 402.0,85.0 C413.3,96.0 422.8,107.8 430.0,122.0 C437.2,136.2 441.7,152.8 445.0,170.0 C448.3,187.2 449.5,206.7 450.0,225.0 C450.5,243.3 449.3,264.5 448.0,280.0 C446.7,295.5 444.5,304.7 442.0,318.0 C439.5,331.3 435.8,344.7 433.0,360.0 C430.2,375.3 427.8,391.7 425.0,410.0 C422.2,428.3 419.5,445.7 416.0,470.0 C412.5,494.3 406.0,541.7 404.0,556.0 Z" fill="#5a5a5a" filter="url(#neck)"/><g filter="url(#blur1)"><path d="M170,400 Q190,470 185,556 L215,556 Q222,470 205,400Z" fill="#303030"/><path d="M365,400 Q380,470 378,556 L408,556 Q412,470 395,400Z" fill="#303030"/><path d="M150,330 Q200,320 235,360 Q225,420 185,430 Q150,400 150,330Z" fill="#9a9a9a" opacity="0.55"/><path d="M360,330 Q415,320 432,345 Q430,410 400,425 Q360,400 360,330Z" fill="#9a9a9a" opacity="0.55"/><path d="M255,300 Q290,295 325,308 Q330,345 300,360 Q265,350 255,300Z" fill="#a8a8a8" opacity="0.8"/><path d="M262,380 L338,380 L335,556 L262,556Z" fill="#4a4a4a" opacity="0.6"/><path d="M268,430 L332,430 M266,470 L334,470 M266,510 L334,510" stroke="#707070" stroke-width="14" fill="none" opacity="0.8"/></g><path d="M248,390 L244,556 M348,390 L354,556" stroke="#cfcfcf" stroke-width="4" fill="none" opacity="0.8"/><path d="M133,345 Q150,450 166,556 M436,345 Q420,450 406,556" stroke="#a0a0a0" stroke-width="5" fill="none" opacity="0.6"/><path d="M130.0,300.0 C121.8,289.7 122.5,266.7 121.0,250.0 C119.5,233.3 119.7,216.7 121.0,200.0 C122.3,183.3 124.0,165.7 129.0,150.0 C134.0,134.3 140.7,119.2 151.0,106.0 C161.3,92.8 176.2,79.8 191.0,71.0 C205.8,62.2 225.5,56.5 240.0,53.0 C254.5,49.5 265.0,50.0 278.0,50.0 C291.0,50.0 304.0,49.8 318.0,53.0 C332.0,56.2 348.3,61.0 362.0,69.0 C375.7,77.0 389.5,89.0 400.0,101.0 C410.5,113.0 418.8,126.2 425.0,141.0 C431.2,155.8 434.5,173.5 437.0,190.0 C439.5,206.5 440.2,223.3 440.0,240.0 C439.8,256.7 438.0,278.3 436.0,290.0 C434.0,301.7 437.3,307.5 428.0,310.0 C418.7,312.5 401.3,306.7 380.0,305.0 C358.7,303.3 323.3,300.0 300.0,300.0 C276.7,300.0 261.7,303.0 240.0,305.0 C218.3,307.0 188.3,312.8 170.0,312.0 C151.7,311.2 138.2,310.3 130.0,300.0Z" fill="#1e1e1e"/><path d="M138.0,300.0 C130.2,289.7 129.7,266.7 128.0,250.0 C126.3,233.3 126.7,216.2 128.0,200.0 C129.3,183.8 131.0,167.7 136.0,153.0 C141.0,138.3 148.2,124.0 158.0,112.0 C167.8,100.0 181.3,89.2 195.0,81.0 C208.7,72.8 226.2,66.7 240.0,63.0 C253.8,59.3 265.3,59.0 278.0,59.0 C290.7,59.0 302.3,59.7 316.0,63.0 C329.7,66.3 346.5,71.2 360.0,79.0 C373.5,86.8 387.2,98.5 397.0,110.0 C406.8,121.5 413.5,133.8 419.0,148.0 C424.5,162.2 427.8,178.8 430.0,195.0 C432.2,211.2 432.7,228.3 432.0,245.0 C431.3,261.7 431.3,284.5 426.0,295.0 C420.7,305.5 412.7,306.8 400.0,308.0 C387.3,309.2 363.3,303.0 350.0,302.0 C336.7,301.0 330.0,300.3 320.0,302.0 C310.0,303.7 300.0,312.0 290.0,312.0 C280.0,312.0 272.5,303.2 260.0,302.0 C247.5,300.8 229.2,303.3 215.0,305.0 C200.8,306.7 187.8,312.8 175.0,312.0 C162.2,311.2 145.8,310.3 138.0,300.0Z" fill="#7e7e7e"/><clipPath id="bc1"><path d="M138.0,300.0 C130.2,289.7 129.7,266.7 128.0,250.0 C126.3,233.3 126.7,216.2 128.0,200.0 C129.3,183.8 131.0,167.7 136.0,153.0 C141.0,138.3 148.2,124.0 158.0,112.0 C167.8,100.0 181.3,89.2 195.0,81.0 C208.7,72.8 226.2,66.7 240.0,63.0 C253.8,59.3 265.3,59.0 278.0,59.0 C290.7,59.0 302.3,59.7 316.0,63.0 C329.7,66.3 346.5,71.2 360.0,79.0 C373.5,86.8 387.2,98.5 397.0,110.0 C406.8,121.5 413.5,133.8 419.0,148.0 C424.5,162.2 427.8,178.8 430.0,195.0 C432.2,211.2 432.7,228.3 432.0,245.0 C431.3,261.7 431.3,284.5 426.0,295.0 C420.7,305.5 412.7,306.8 400.0,308.0 C387.3,309.2 363.3,303.0 350.0,302.0 C336.7,301.0 330.0,300.3 320.0,302.0 C310.0,303.7 300.0,312.0 290.0,312.0 C280.0,312.0 272.5,303.2 260.0,302.0 C247.5,300.8 229.2,303.3 215.0,305.0 C200.8,306.7 187.8,312.8 175.0,312.0 C162.2,311.2 145.8,310.3 138.0,300.0Z"/></clipPath><g clip-path="url(#bc1)"><path d="M138.0,300.0 C130.2,289.7 129.7,266.7 128.0,250.0 C126.3,233.3 126.7,216.2 128.0,200.0 C129.3,183.8 131.0,167.7 136.0,153.0 C141.0,138.3 148.2,124.0 158.0,112.0 C167.8,100.0 181.3,89.2 195.0,81.0 C208.7,72.8 226.2,66.7 240.0,63.0 C253.8,59.3 265.3,59.0 278.0,59.0 C290.7,59.0 302.3,59.7 316.0,63.0 C329.7,66.3 346.5,71.2 360.0,79.0 C373.5,86.8 387.2,98.5 397.0,110.0 C406.8,121.5 413.5,133.8 419.0,148.0 C424.5,162.2 427.8,178.8 430.0,195.0 C432.2,211.2 432.7,228.3 432.0,245.0 C431.3,261.7 431.3,284.5 426.0,295.0 C420.7,305.5 412.7,306.8 400.0,308.0 C387.3,309.2 363.3,303.0 350.0,302.0 C336.7,301.0 330.0,300.3 320.0,302.0 C310.0,303.7 300.0,312.0 290.0,312.0 C280.0,312.0 272.5,303.2 260.0,302.0 C247.5,300.8 229.2,303.3 215.0,305.0 C200.8,306.7 187.8,312.8 175.0,312.0 C162.2,311.2 145.8,310.3 138.0,300.0Z" fill="none" stroke="#686868" stroke-width="70" filter="url(#blur1)"/><path d="M138.0,300.0 C130.2,289.7 129.7,266.7 128.0,250.0 C126.3,233.3 126.7,216.2 128.0,200.0 C129.3,183.8 131.0,167.7 136.0,153.0 C141.0,138.3 148.2,124.0 158.0,112.0 C167.8,100.0 181.3,89.2 195.0,81.0 C208.7,72.8 226.2,66.7 240.0,63.0 C253.8,59.3 265.3,59.0 278.0,59.0 C290.7,59.0 302.3,59.7 316.0,63.0 C329.7,66.3 346.5,71.2 360.0,79.0 C373.5,86.8 387.2,98.5 397.0,110.0 C406.8,121.5 413.5,133.8 419.0,148.0 C424.5,162.2 427.8,178.8 430.0,195.0 C432.2,211.2 432.7,228.3 432.0,245.0 C431.3,261.7 431.3,284.5 426.0,295.0 C420.7,305.5 412.7,306.8 400.0,308.0 C387.3,309.2 363.3,303.0 350.0,302.0 C336.7,301.0 330.0,300.3 320.0,302.0 C310.0,303.7 300.0,312.0 290.0,312.0 C280.0,312.0 272.5,303.2 260.0,302.0 C247.5,300.8 229.2,303.3 215.0,305.0 C200.8,306.7 187.8,312.8 175.0,312.0 C162.2,311.2 145.8,310.3 138.0,300.0Z" fill="#000" filter="url(#gy1)" opacity="0.35"/><path d="M140.5,298.3 Q154.7,289.7 167.1,279.5" stroke="#2e2e2e" stroke-width="8" fill="none" stroke-linecap="round"/><path d="M155.5,287.7 L172.9,295.0" stroke="#2e2e2e" stroke-width="6.4" fill="none" stroke-linecap="round"/><path d="M133.0,259.9 Q150.1,239.8 174.7,242.9" stroke="#2e2e2e" stroke-width="8" fill="none" stroke-linecap="round"/><path d="M156.9,250.2 L172.2,261.2" stroke="#2e2e2e" stroke-width="6.4" fill="none" stroke-linecap="round"/><path d="M131.0,221.1 Q146.7,211.4 163.9,216.5" stroke="#2e2e2e" stroke-width="8" fill="none" stroke-linecap="round"/><path d="M134.0,182.4 Q153.4,194.3 173.8,187.2" stroke="#2e2e2e" stroke-width="8" fill="none" stroke-linecap="round"/><path d="M156.7,185.2 L168.5,170.5" stroke="#2e2e2e" stroke-width="6.4" fill="none" stroke-linecap="round"/><path d="M143.6,145.1 Q162.5,142.2 173.7,157.2" stroke="#2e2e2e" stroke-width="8" fill="none" stroke-linecap="round"/><path d="M163.0,111.6 Q186.6,112.4 192.9,134.2" stroke="#2e2e2e" stroke-width="8" fill="none" stroke-linecap="round"/><path d="M192.9,86.7 Q192.0,106.5 211.2,110.5" stroke="#2e2e2e" stroke-width="8" fill="none" stroke-linecap="round"/><path d="M203.2,100.0 L221.9,98.2" stroke="#2e2e2e" stroke-width="6.4" fill="none" stroke-linecap="round"/><path d="M228.2,70.9 Q244.2,93.5 247.3,118.6" stroke="#2e2e2e" stroke-width="8" fill="none" stroke-linecap="round"/><path d="M266.0,63.3 Q272.0,91.4 271.5,117.4" stroke="#2e2e2e" stroke-width="8" fill="none" stroke-linecap="round"/><path d="M304.7,64.8 Q294.8,83.3 297.7,102.8" stroke="#2e2e2e" stroke-width="8" fill="none" stroke-linecap="round"/><path d="M341.8,75.5 Q337.9,106.4 316.9,125.6" stroke="#2e2e2e" stroke-width="8" fill="none" stroke-linecap="round"/><path d="M327.4,104.5 L337.3,120.6" stroke="#2e2e2e" stroke-width="6.4" fill="none" stroke-linecap="round"/><path d="M374.7,95.2 Q370.6,111.5 355.0,117.0" stroke="#2e2e2e" stroke-width="8" fill="none" stroke-linecap="round"/><path d="M401.1,123.0 Q382.2,130.8 368.2,143.9" stroke="#2e2e2e" stroke-width="8" fill="none" stroke-linecap="round"/><path d="M382.4,134.9 L365.3,126.8" stroke="#2e2e2e" stroke-width="6.4" fill="none" stroke-linecap="round"/><path d="M418.2,157.7 Q396.4,163.3 376.7,170.4" stroke="#2e2e2e" stroke-width="8" fill="none" stroke-linecap="round"/><path d="M394.5,164.9 L389.6,183.2" stroke="#2e2e2e" stroke-width="6.4" fill="none" stroke-linecap="round"/><path d="M427.0,195.6 Q398.6,191.3 373.1,197.2" stroke="#2e2e2e" stroke-width="8" fill="none" stroke-linecap="round"/><path d="M428.7,234.5 Q405.0,214.9 377.6,222.6" stroke="#2e2e2e" stroke-width="8" fill="none" stroke-linecap="round"/><path d="M425.8,273.3 Q416.7,257.4 398.8,259.7" stroke="#2e2e2e" stroke-width="8" fill="none" stroke-linecap="round"/><path d="M138.0,300.0 C130.2,289.7 129.7,266.7 128.0,250.0 C126.3,233.3 126.7,216.2 128.0,200.0 C129.3,183.8 131.0,167.7 136.0,153.0 C141.0,138.3 148.2,124.0 158.0,112.0 C167.8,100.0 181.3,89.2 195.0,81.0 C208.7,72.8 226.2,66.7 240.0,63.0 C253.8,59.3 265.3,59.0 278.0,59.0 C290.7,59.0 302.3,59.7 316.0,63.0 C329.7,66.3 346.5,71.2 360.0,79.0 C373.5,86.8 387.2,98.5 397.0,110.0 C406.8,121.5 413.5,133.8 419.0,148.0 C424.5,162.2 427.8,178.8 430.0,195.0 C432.2,211.2 432.7,228.3 432.0,245.0 C431.3,261.7 431.3,284.5 426.0,295.0 C420.7,305.5 412.7,306.8 400.0,308.0 C387.3,309.2 363.3,303.0 350.0,302.0 C336.7,301.0 330.0,300.3 320.0,302.0 C310.0,303.7 300.0,312.0 290.0,312.0 C280.0,312.0 272.5,303.2 260.0,302.0 C247.5,300.8 229.2,303.3 215.0,305.0 C200.8,306.7 187.8,312.8 175.0,312.0 C162.2,311.2 145.8,310.3 138.0,300.0Z" fill="none" stroke="#1e1e1e" stroke-width="5"/></g><path d="M278,63 L277,100 L278,140 L276,160" stroke="#2a2a2a" stroke-width="6" fill="none"/><path d="M252,152 Q266,162 273,176 L281,176 Q290,162 303,152 Q291,170 286,190 L270,190 Q263,170 252,152Z" fill="#2a2a2a" filter="url(#blur1)"/><path d="M262,248 L332,236 L324,296 L302,318 L280,298 Z" fill="#262626" filter="url(#blur2)"/><path d="M330,250 Q370,250 390,280 Q370,300 335,298Z" fill="#4a4a4a" opacity="0.8"/><path d="M124.0,310.0 C122.0,301.7 114.2,277.5 112.0,260.0 C109.8,242.5 110.0,222.0 111.0,205.0 C112.0,188.0 114.0,172.7 118.0,158.0 C122.0,143.3 127.7,129.7 135.0,117.0 C142.3,104.3 151.2,92.0 162.0,82.0 C172.8,72.0 186.2,63.5 200.0,57.0 C213.8,50.5 232.0,45.8 245.0,43.0 C258.0,40.2 266.3,40.0 278.0,40.0 C289.7,40.0 301.3,40.0 315.0,43.0 C328.7,46.0 345.8,50.7 360.0,58.0 C374.2,65.3 388.7,76.0 400.0,87.0 C411.3,98.0 420.8,110.0 428.0,124.0 C435.2,138.0 439.7,154.2 443.0,171.0 C446.3,187.8 447.5,206.8 448.0,225.0 C448.5,243.2 447.7,264.2 446.0,280.0 C444.3,295.8 439.3,313.3 438.0,320.0" stroke="#8c8c8c" stroke-width="11" fill="none" stroke-linecap="round"/><path d="M124.0,310.0 C122.0,301.7 114.2,277.5 112.0,260.0 C109.8,242.5 110.0,222.0 111.0,205.0 C112.0,188.0 114.0,172.7 118.0,158.0 C122.0,143.3 127.7,129.7 135.0,117.0 C142.3,104.3 151.2,92.0 162.0,82.0 C172.8,72.0 186.2,63.5 200.0,57.0 C213.8,50.5 232.0,45.8 245.0,43.0 C258.0,40.2 266.3,40.0 278.0,40.0 C289.7,40.0 301.3,40.0 315.0,43.0 C328.7,46.0 345.8,50.7 360.0,58.0 C374.2,65.3 388.7,76.0 400.0,87.0 C411.3,98.0 420.8,110.0 428.0,124.0 C435.2,138.0 439.7,154.2 443.0,171.0 C446.3,187.8 447.5,206.8 448.0,225.0 C448.5,243.2 447.7,264.2 446.0,280.0 C444.3,295.8 439.3,313.3 438.0,320.0" stroke="#b4b4b4" stroke-width="3" fill="none" stroke-linecap="round" opacity="0.8"/><rect x="100" y="547" width="360" height="7" fill="#6a6a6a" opacity="0.8"/><ellipse cx="262" cy="196" rx="15" ry="17" fill="#de3a20"/><path d="M215,240 Q222,226 238,228 Q250,232 248,243 Q232,246 215,240Z" fill="#de3a20"/><path d="M200,250 Q205,240 222,244 Q245,246 252,240 Q256,255 245,262 Q225,270 205,266 Q196,260 200,250Z" fill="#f6ee74"/><path d="M172,272 Q182,268 185,280 L178,292 L170,290Z M200,282 L212,280 L214,296 L205,300 L198,292Z M186,296 L196,294 L196,302 L186,302Z" fill="#f6ee74"/></g></g><g clip-path="url(#c2)"><g transform="translate(215,380) scale(0.31586)"><path d="M160.0,560.0 C157.5,549.0 152.3,516.2 145.0,494.0 C137.7,471.8 126.8,449.3 116.0,427.0 C105.2,404.7 89.0,381.2 80.0,360.0 C71.0,338.8 65.3,320.0 62.0,300.0 C58.7,280.0 58.3,261.7 60.0,240.0 C61.7,218.3 65.3,190.8 72.0,170.0 C78.7,149.2 87.8,130.8 100.0,115.0 C112.2,99.2 127.5,85.8 145.0,75.0 C162.5,64.2 185.0,55.5 205.0,50.0 C225.0,44.5 244.2,41.7 265.0,42.0 C285.8,42.3 310.0,45.3 330.0,52.0 C350.0,58.7 369.2,69.8 385.0,82.0 C400.8,94.2 415.0,110.3 425.0,125.0 C435.0,139.7 439.5,156.7 445.0,170.0 C450.5,183.3 457.2,194.2 458.0,205.0 C458.8,215.8 451.7,224.2 450.0,235.0 C448.3,245.8 448.8,259.2 448.0,270.0 C447.2,280.8 443.8,288.3 445.0,300.0 C446.2,311.7 454.2,323.3 455.0,340.0 C455.8,356.7 454.2,378.3 450.0,400.0 C445.8,421.7 435.0,443.3 430.0,470.0 C425.0,496.7 421.7,545.0 420.0,560.0 Z" fill="#555" filter="url(#neck2)"/><g filter="url(#blur2)"><path d="M80,360 Q125,440 160,556 L215,556 Q200,430 150,360Z" fill="#333" opacity="0.85"/><path d="M338,292 Q380,282 440,300 L452,380 Q445,470 432,556 L352,556 Q340,420 338,292Z" fill="#0c0c0c" opacity="0.92"/><path d="M385,370 Q415,365 428,410 Q405,440 385,420Z M362,462 Q395,462 400,500 Q378,512 362,492Z M410,300 Q440,300 445,340 Q425,350 410,330Z" fill="#404040" opacity="0.5"/><path d="M225,370 Q280,355 325,380 L345,556 L235,556Z" fill="#707070" opacity="0.6"/></g><path d="M262,420 L318,425 M266,465 L322,470 M270,510 L326,515" stroke="#4a4a4a" stroke-width="8" fill="none" opacity="0.7"/><path d="M285,370 Q305,378 300,398 Q282,398 285,370Z" fill="#dddddd"/><path d="M78.0,300.0 C73.8,284.2 73.8,260.0 75.0,240.0 C76.2,220.0 78.8,199.2 85.0,180.0 C91.2,160.8 100.3,140.8 112.0,125.0 C123.7,109.2 138.7,95.5 155.0,85.0 C171.3,74.5 190.8,67.0 210.0,62.0 C229.2,57.0 250.0,54.8 270.0,55.0 C290.0,55.2 311.7,56.8 330.0,63.0 C348.3,69.2 365.8,80.5 380.0,92.0 C394.2,103.5 406.3,118.2 415.0,132.0 C423.7,145.8 428.7,162.8 432.0,175.0 C435.3,187.2 438.7,197.2 435.0,205.0 C431.3,212.8 425.8,216.2 410.0,222.0 C394.2,227.8 358.3,232.0 340.0,240.0 C321.7,248.0 315.0,256.7 300.0,270.0 C285.0,283.3 265.8,305.0 250.0,320.0 C234.2,335.0 223.3,353.0 205.0,360.0 C186.7,367.0 157.5,366.2 140.0,362.0 C122.5,357.8 110.3,345.3 100.0,335.0 C89.7,324.7 82.2,315.8 78.0,300.0Z" fill="#1e1e1e"/><path d="M88.0,290.0 C83.7,274.8 84.7,253.3 86.0,235.0 C87.3,216.7 90.0,197.2 96.0,180.0 C102.0,162.8 111.0,146.0 122.0,132.0 C133.0,118.0 146.5,105.7 162.0,96.0 C177.5,86.3 196.7,78.8 215.0,74.0 C233.3,69.2 252.8,66.7 272.0,67.0 C291.2,67.3 312.7,70.2 330.0,76.0 C347.3,81.8 363.0,91.3 376.0,102.0 C389.0,112.7 400.2,127.0 408.0,140.0 C415.8,153.0 421.0,169.2 423.0,180.0 C425.0,190.8 424.7,199.2 420.0,205.0 C415.3,210.8 409.2,210.5 395.0,215.0 C380.8,219.5 350.0,225.3 335.0,232.0 C320.0,238.7 316.2,243.7 305.0,255.0 C293.8,266.3 279.7,286.2 268.0,300.0 C256.3,313.8 247.2,328.7 235.0,338.0 C222.8,347.3 209.2,353.7 195.0,356.0 C180.8,358.3 163.8,357.0 150.0,352.0 C136.2,347.0 122.3,336.3 112.0,326.0 C101.7,315.7 92.3,305.2 88.0,290.0Z" fill="#7a7a7a"/><clipPath id="bc2"><path d="M88.0,290.0 C83.7,274.8 84.7,253.3 86.0,235.0 C87.3,216.7 90.0,197.2 96.0,180.0 C102.0,162.8 111.0,146.0 122.0,132.0 C133.0,118.0 146.5,105.7 162.0,96.0 C177.5,86.3 196.7,78.8 215.0,74.0 C233.3,69.2 252.8,66.7 272.0,67.0 C291.2,67.3 312.7,70.2 330.0,76.0 C347.3,81.8 363.0,91.3 376.0,102.0 C389.0,112.7 400.2,127.0 408.0,140.0 C415.8,153.0 421.0,169.2 423.0,180.0 C425.0,190.8 424.7,199.2 420.0,205.0 C415.3,210.8 409.2,210.5 395.0,215.0 C380.8,219.5 350.0,225.3 335.0,232.0 C320.0,238.7 316.2,243.7 305.0,255.0 C293.8,266.3 279.7,286.2 268.0,300.0 C256.3,313.8 247.2,328.7 235.0,338.0 C222.8,347.3 209.2,353.7 195.0,356.0 C180.8,358.3 163.8,357.0 150.0,352.0 C136.2,347.0 122.3,336.3 112.0,326.0 C101.7,315.7 92.3,305.2 88.0,290.0Z"/></clipPath><g clip-path="url(#bc2)"><path d="M88.0,290.0 C83.7,274.8 84.7,253.3 86.0,235.0 C87.3,216.7 90.0,197.2 96.0,180.0 C102.0,162.8 111.0,146.0 122.0,132.0 C133.0,118.0 146.5,105.7 162.0,96.0 C177.5,86.3 196.7,78.8 215.0,74.0 C233.3,69.2 252.8,66.7 272.0,67.0 C291.2,67.3 312.7,70.2 330.0,76.0 C347.3,81.8 363.0,91.3 376.0,102.0 C389.0,112.7 400.2,127.0 408.0,140.0 C415.8,153.0 421.0,169.2 423.0,180.0 C425.0,190.8 424.7,199.2 420.0,205.0 C415.3,210.8 409.2,210.5 395.0,215.0 C380.8,219.5 350.0,225.3 335.0,232.0 C320.0,238.7 316.2,243.7 305.0,255.0 C293.8,266.3 279.7,286.2 268.0,300.0 C256.3,313.8 247.2,328.7 235.0,338.0 C222.8,347.3 209.2,353.7 195.0,356.0 C180.8,358.3 163.8,357.0 150.0,352.0 C136.2,347.0 122.3,336.3 112.0,326.0 C101.7,315.7 92.3,305.2 88.0,290.0Z" fill="none" stroke="#686868" stroke-width="70" filter="url(#blur1)"/><path d="M88.0,290.0 C83.7,274.8 84.7,253.3 86.0,235.0 C87.3,216.7 90.0,197.2 96.0,180.0 C102.0,162.8 111.0,146.0 122.0,132.0 C133.0,118.0 146.5,105.7 162.0,96.0 C177.5,86.3 196.7,78.8 215.0,74.0 C233.3,69.2 252.8,66.7 272.0,67.0 C291.2,67.3 312.7,70.2 330.0,76.0 C347.3,81.8 363.0,91.3 376.0,102.0 C389.0,112.7 400.2,127.0 408.0,140.0 C415.8,153.0 421.0,169.2 423.0,180.0 C425.0,190.8 424.7,199.2 420.0,205.0 C415.3,210.8 409.2,210.5 395.0,215.0 C380.8,219.5 350.0,225.3 335.0,232.0 C320.0,238.7 316.2,243.7 305.0,255.0 C293.8,266.3 279.7,286.2 268.0,300.0 C256.3,313.8 247.2,328.7 235.0,338.0 C222.8,347.3 209.2,353.7 195.0,356.0 C180.8,358.3 163.8,357.0 150.0,352.0 C136.2,347.0 122.3,336.3 112.0,326.0 C101.7,315.7 92.3,305.2 88.0,290.0Z" fill="#000" filter="url(#gy2)" opacity="0.35"/><path d="M89.5,251.6 Q113.8,251.3 132.5,238.6" stroke="#2e2e2e" stroke-width="8" fill="none" stroke-linecap="round"/><path d="M92.6,214.9 Q122.1,219.0 147.5,210.0" stroke="#2e2e2e" stroke-width="8" fill="none" stroke-linecap="round"/><path d="M99.8,178.8 Q112.8,179.5 125.5,182.2" stroke="#2e2e2e" stroke-width="8" fill="none" stroke-linecap="round"/><path d="M117.6,146.4 Q135.9,165.3 160.4,162.5" stroke="#2e2e2e" stroke-width="8" fill="none" stroke-linecap="round"/><path d="M142.2,155.6 L145.9,174.1" stroke="#2e2e2e" stroke-width="6.4" fill="none" stroke-linecap="round"/><path d="M141.1,118.7 Q165.9,131.6 184.7,148.5" stroke="#2e2e2e" stroke-width="8" fill="none" stroke-linecap="round"/><path d="M166.3,135.9 L183.6,128.3" stroke="#2e2e2e" stroke-width="6.4" fill="none" stroke-linecap="round"/><path d="M169.7,95.9 Q183.9,100.2 186.3,115.1" stroke="#2e2e2e" stroke-width="8" fill="none" stroke-linecap="round"/><path d="M178.9,106.5 L173.4,124.5" stroke="#2e2e2e" stroke-width="6.4" fill="none" stroke-linecap="round"/><path d="M203.7,81.9 Q202.8,99.2 216.7,109.1" stroke="#2e2e2e" stroke-width="8" fill="none" stroke-linecap="round"/><path d="M211.0,97.1 L200.8,113.1" stroke="#2e2e2e" stroke-width="6.4" fill="none" stroke-linecap="round"/><path d="M239.3,74.0 Q255.4,86.2 244.0,102.7" stroke="#2e2e2e" stroke-width="8" fill="none" stroke-linecap="round"/><path d="M275.7,70.6 Q281.7,87.5 271.9,102.1" stroke="#2e2e2e" stroke-width="8" fill="none" stroke-linecap="round"/><path d="M312.1,76.2 Q306.8,104.0 291.6,124.9" stroke="#2e2e2e" stroke-width="8" fill="none" stroke-linecap="round"/><path d="M346.1,88.5 Q328.8,102.8 320.3,122.0" stroke="#2e2e2e" stroke-width="8" fill="none" stroke-linecap="round"/><path d="M331.4,107.6 L337.9,125.3" stroke="#2e2e2e" stroke-width="6.4" fill="none" stroke-linecap="round"/><path d="M377.1,108.0 Q347.2,117.5 333.1,142.5" stroke="#2e2e2e" stroke-width="8" fill="none" stroke-linecap="round"/><path d="M351.7,128.0 L333.9,121.6" stroke="#2e2e2e" stroke-width="6.4" fill="none" stroke-linecap="round"/><path d="M400.9,136.1 Q378.0,133.1 366.1,151.9" stroke="#2e2e2e" stroke-width="8" fill="none" stroke-linecap="round"/><path d="M381.1,145.1 L365.4,134.6" stroke="#2e2e2e" stroke-width="6.4" fill="none" stroke-linecap="round"/><path d="M415.9,169.5 Q398.0,170.0 381.9,176.1" stroke="#2e2e2e" stroke-width="8" fill="none" stroke-linecap="round"/><path d="M396.7,173.2 L383.8,159.5" stroke="#2e2e2e" stroke-width="6.4" fill="none" stroke-linecap="round"/><path d="M416.5,205.1 Q402.8,208.7 389.4,204.2" stroke="#2e2e2e" stroke-width="8" fill="none" stroke-linecap="round"/><path d="M401.4,204.6 L392.0,188.3" stroke="#2e2e2e" stroke-width="6.4" fill="none" stroke-linecap="round"/><path d="M381.2,217.6 Q365.6,216.1 350.6,213.2" stroke="#2e2e2e" stroke-width="8" fill="none" stroke-linecap="round"/><path d="M364.1,215.1 L356.5,197.9" stroke="#2e2e2e" stroke-width="6.4" fill="none" stroke-linecap="round"/><path d="M345.2,227.4 Q313.0,231.1 291.7,210.2" stroke="#2e2e2e" stroke-width="8" fill="none" stroke-linecap="round"/><path d="M313.6,244.7 Q284.0,237.6 273.7,211.4" stroke="#2e2e2e" stroke-width="8" fill="none" stroke-linecap="round"/><path d="M110,262 Q170,250 235,280" stroke="#3a3a3a" stroke-width="5" fill="none"/><path d="M114,277 Q170,265 232,292" stroke="#3a3a3a" stroke-width="5" fill="none"/><path d="M118,292 Q170,280 229,304" stroke="#3a3a3a" stroke-width="5" fill="none"/><path d="M122,307 Q170,295 226,316" stroke="#3a3a3a" stroke-width="5" fill="none"/><path d="M126,322 Q170,310 223,328" stroke="#3a3a3a" stroke-width="5" fill="none"/><path d="M130,337 Q170,325 220,340" stroke="#3a3a3a" stroke-width="5" fill="none"/><path d="M88.0,290.0 C83.7,274.8 84.7,253.3 86.0,235.0 C87.3,216.7 90.0,197.2 96.0,180.0 C102.0,162.8 111.0,146.0 122.0,132.0 C133.0,118.0 146.5,105.7 162.0,96.0 C177.5,86.3 196.7,78.8 215.0,74.0 C233.3,69.2 252.8,66.7 272.0,67.0 C291.2,67.3 312.7,70.2 330.0,76.0 C347.3,81.8 363.0,91.3 376.0,102.0 C389.0,112.7 400.2,127.0 408.0,140.0 C415.8,153.0 421.0,169.2 423.0,180.0 C425.0,190.8 424.7,199.2 420.0,205.0 C415.3,210.8 409.2,210.5 395.0,215.0 C380.8,219.5 350.0,225.3 335.0,232.0 C320.0,238.7 316.2,243.7 305.0,255.0 C293.8,266.3 279.7,286.2 268.0,300.0 C256.3,313.8 247.2,328.7 235.0,338.0 C222.8,347.3 209.2,353.7 195.0,356.0 C180.8,358.3 163.8,357.0 150.0,352.0 C136.2,347.0 122.3,336.3 112.0,326.0 C101.7,315.7 92.3,305.2 88.0,290.0Z" fill="none" stroke="#1e1e1e" stroke-width="5"/></g><path d="M200,165 Q280,135 360,170" stroke="#2e2e2e" stroke-width="7" fill="none"/><path d="M215,190 Q280,165 345,190" stroke="#8a8a8a" stroke-width="9" fill="none"/><path d="M116.0,427.0 C110.3,415.8 90.7,381.2 82.0,360.0 C73.3,338.8 67.3,320.0 64.0,300.0 C60.7,280.0 60.3,261.7 62.0,240.0 C63.7,218.3 67.3,190.8 74.0,170.0 C80.7,149.2 89.8,130.8 102.0,115.0 C114.2,99.2 129.7,85.8 147.0,75.0 C164.3,64.2 186.2,55.5 206.0,50.0 C225.8,44.5 245.3,41.7 266.0,42.0 C286.7,42.3 310.2,45.3 330.0,52.0 C349.8,58.7 369.2,69.8 385.0,82.0 C400.8,94.2 415.0,110.3 425.0,125.0 C435.0,139.7 440.0,156.7 445.0,170.0 C450.0,183.3 453.3,199.2 455.0,205.0" stroke="#8e8e8e" stroke-width="11" fill="none" stroke-linecap="round"/><path d="M116.0,427.0 C110.3,415.8 90.7,381.2 82.0,360.0 C73.3,338.8 67.3,320.0 64.0,300.0 C60.7,280.0 60.3,261.7 62.0,240.0 C63.7,218.3 67.3,190.8 74.0,170.0 C80.7,149.2 89.8,130.8 102.0,115.0 C114.2,99.2 129.7,85.8 147.0,75.0 C164.3,64.2 186.2,55.5 206.0,50.0 C225.8,44.5 245.3,41.7 266.0,42.0 C286.7,42.3 310.2,45.3 330.0,52.0 C349.8,58.7 369.2,69.8 385.0,82.0 C400.8,94.2 415.0,110.3 425.0,125.0 C435.0,139.7 440.0,156.7 445.0,170.0 C450.0,183.3 453.3,199.2 455.0,205.0" stroke="#bababa" stroke-width="3" fill="none" stroke-linecap="round" opacity="0.8"/><path d="M116,427 Q150,490 160,560" stroke="#bbbbbb" stroke-width="6" fill="none"/><path d="M335,235 Q360,215 400,212 Q440,205 452,225 Q450,265 440,285 Q410,300 380,292 Q350,285 335,262Z" fill="#9c9c9c" filter="url(#blur1)"/><path d="M340,240 Q370,228 395,232 M360,280 Q390,292 430,282" stroke="#d0d0d0" stroke-width="6" fill="none" filter="url(#blur1)"/><circle cx="403" cy="250" r="21" fill="#c4c4c4"/><circle cx="403" cy="250" r="13" fill="#0c0c0c"/><path d="M212,190 Q225,180 238,192 Q242,210 235,222 Q222,232 212,225 Q205,205 212,190Z" fill="#de3a20"/><path d="M258,232 Q272,222 282,240 Q290,258 282,272 Q270,276 262,262 Q255,248 258,232Z" fill="#de3a20"/><path d="M240,240 Q255,232 265,248 L272,265 Q260,272 248,262 Q238,252 240,240Z" fill="#f6ee74"/><path d="M300,262 Q318,250 328,262 Q335,278 325,288 L312,290 L305,302 L290,300 L288,285 L300,278Z" fill="#f6ee74"/></g></g><g clip-path="url(#c3)"><g transform="translate(398,380) scale(0.31586)"><path d="M285.0,92.0 C277.3,92.0 268.7,95.7 262.0,100.0 C255.3,104.3 254.5,115.0 245.0,118.0 C235.5,121.0 217.8,114.3 205.0,118.0 C192.2,121.7 178.8,128.0 168.0,140.0 C157.2,152.0 147.0,172.5 140.0,190.0 C133.0,207.5 129.8,225.8 126.0,245.0 C122.2,264.2 117.7,282.5 117.0,305.0 C116.3,327.5 117.8,357.5 122.0,380.0 C126.2,402.5 132.0,422.5 142.0,440.0 C152.0,457.5 166.0,474.0 182.0,485.0 C198.0,496.0 220.8,501.8 238.0,506.0 C255.2,510.2 269.3,510.0 285.0,510.0 C300.7,510.0 314.8,510.2 332.0,506.0 C349.2,501.8 372.5,495.7 388.0,485.0 C403.5,474.3 415.8,459.5 425.0,442.0 C434.2,424.5 439.5,402.8 443.0,380.0 C446.5,357.2 446.0,326.7 446.0,305.0 C446.0,283.3 446.0,268.3 443.0,250.0 C440.0,231.7 435.2,213.0 428.0,195.0 C420.8,177.0 411.0,155.2 400.0,142.0 C389.0,128.8 374.5,120.0 362.0,116.0 C349.5,112.0 334.0,120.7 325.0,118.0 C316.0,115.3 314.7,104.3 308.0,100.0 C301.3,95.7 292.7,92.0 285.0,92.0Z" fill="#505050"/><path d="M150,230 Q150,170 190,140 Q240,115 285,110 Q330,115 380,140 Q420,170 425,230 Q360,215 285,245 Q210,215 150,230Z" fill="#303030" filter="url(#blur1)"/><path d="M255.0,205.0 C235.8,203.3 215.8,192.8 200.0,195.0 C184.2,197.2 170.0,206.8 160.0,218.0 C150.0,229.2 144.7,246.3 140.0,262.0 C135.3,277.7 132.7,292.3 132.0,312.0 C131.3,331.7 132.7,359.5 136.0,380.0 C139.3,400.5 143.0,419.2 152.0,435.0 C161.0,450.8 175.3,465.0 190.0,475.0 C204.7,485.0 224.2,491.2 240.0,495.0 C255.8,498.8 270.0,498.0 285.0,498.0 C300.0,498.0 314.2,498.8 330.0,495.0 C345.8,491.2 365.8,485.0 380.0,475.0 C394.2,465.0 406.3,450.8 415.0,435.0 C423.7,419.2 428.7,400.5 432.0,380.0 C435.3,359.5 435.7,331.7 435.0,312.0 C434.3,292.3 432.2,277.7 428.0,262.0 C423.8,246.3 419.7,229.2 410.0,218.0 C400.3,206.8 385.8,197.2 370.0,195.0 C354.2,192.8 334.2,203.3 315.0,205.0 C295.8,206.7 274.2,206.7 255.0,205.0Z" fill="#1e1e1e"/><path d="M255.0,222.0 C240.8,216.5 219.2,210.7 205.0,212.0 C190.8,213.3 179.2,220.7 170.0,230.0 C160.8,239.3 154.7,253.3 150.0,268.0 C145.3,282.7 142.7,299.3 142.0,318.0 C141.3,336.7 142.7,361.3 146.0,380.0 C149.3,398.7 153.7,415.7 162.0,430.0 C170.3,444.3 182.7,457.0 196.0,466.0 C209.3,475.0 227.2,480.5 242.0,484.0 C256.8,487.5 270.7,487.0 285.0,487.0 C299.3,487.0 313.2,487.5 328.0,484.0 C342.8,480.5 361.0,475.0 374.0,466.0 C387.0,457.0 398.0,444.3 406.0,430.0 C414.0,415.7 418.8,398.7 422.0,380.0 C425.2,361.3 425.7,336.7 425.0,318.0 C424.3,299.3 422.2,282.7 418.0,268.0 C413.8,253.3 408.8,239.3 400.0,230.0 C391.2,220.7 379.2,213.3 365.0,212.0 C350.8,210.7 327.5,216.5 315.0,222.0 C302.5,227.5 300.0,245.0 290.0,245.0 C280.0,245.0 269.2,227.5 255.0,222.0Z" fill="#737373"/><path d="M255.0,222.0 C240.8,216.5 219.2,210.7 205.0,212.0 C190.8,213.3 179.2,220.7 170.0,230.0 C160.8,239.3 154.7,253.3 150.0,268.0 C145.3,282.7 142.7,299.3 142.0,318.0 C141.3,336.7 142.7,361.3 146.0,380.0 C149.3,398.7 153.7,415.7 162.0,430.0 C170.3,444.3 182.7,457.0 196.0,466.0 C209.3,475.0 227.2,480.5 242.0,484.0 C256.8,487.5 270.7,487.0 285.0,487.0 C299.3,487.0 313.2,487.5 328.0,484.0 C342.8,480.5 361.0,475.0 374.0,466.0 C387.0,457.0 398.0,444.3 406.0,430.0 C414.0,415.7 418.8,398.7 422.0,380.0 C425.2,361.3 425.7,336.7 425.0,318.0 C424.3,299.3 422.2,282.7 418.0,268.0 C413.8,253.3 408.8,239.3 400.0,230.0 C391.2,220.7 379.2,213.3 365.0,212.0 C350.8,210.7 327.5,216.5 315.0,222.0 C302.5,227.5 300.0,245.0 290.0,245.0 C280.0,245.0 269.2,227.5 255.0,222.0Z" fill="#000" filter="url(#gy3)"/><g filter="url(#blur1)"><path d="M258,104 Q285,92 312,104 L318,200 Q305,245 285,252 Q265,245 252,200Z" fill="#121212"/><path d="M150,195 Q165,180 185,190 L220,240 Q195,238 160,255Z" fill="#6e6e6e"/><path d="M420,195 Q405,180 385,190 L350,240 Q375,238 410,255Z" fill="#6e6e6e"/></g><path d="M150,200 Q175,170 200,190 M420,200 Q395,170 370,190 M245,120 L252,205 M325,120 L318,205 M240,200 Q265,225 285,235 Q305,225 330,200" stroke="#a8a8a8" stroke-width="6" fill="none"/><path d="M140,230 Q160,210 180,230 M430,230 Q410,210 390,230" stroke="#b8b8b8" stroke-width="5" fill="none"/><circle cx="214" cy="155" r="33" fill="#b4b4b4"/><circle cx="214" cy="155" r="26" fill="#0a0a0a"/><circle cx="355" cy="152" r="33" fill="#b4b4b4"/><circle cx="355" cy="152" r="26" fill="#0a0a0a"/><path d="M270,96 Q285,86 300,96 L302,112 L268,112Z" fill="#aaa"/><path d="M248,300 Q262,282 284,300 Q306,282 322,300 Q336,325 318,350 Q300,364 285,358 Q268,364 252,350 Q234,325 248,300Z" fill="#787878" stroke="#2a2a2a" stroke-width="6"/><path d="M270,336 Q285,350 300,336" stroke="#2a2a2a" stroke-width="5" fill="none"/><path d="M285,430 L286,488" stroke="#222" stroke-width="6" fill="none"/><path d="M236,372 Q285,396 334,372" stroke="#3a3a3a" stroke-width="4" fill="none"/><path d="M231,384 Q285,408 339,384" stroke="#3a3a3a" stroke-width="4" fill="none"/><path d="M226,396 Q285,420 344,396" stroke="#3a3a3a" stroke-width="4" fill="none"/><path d="M221,408 Q285,432 349,408" stroke="#3a3a3a" stroke-width="4" fill="none"/><path d="M216,420 Q285,444 354,420" stroke="#3a3a3a" stroke-width="4" fill="none"/><path d="M285.0,92.0 C277.3,92.0 268.7,95.7 262.0,100.0 C255.3,104.3 254.5,115.0 245.0,118.0 C235.5,121.0 217.8,114.3 205.0,118.0 C192.2,121.7 178.8,128.0 168.0,140.0 C157.2,152.0 147.0,172.5 140.0,190.0 C133.0,207.5 129.8,225.8 126.0,245.0 C122.2,264.2 117.7,282.5 117.0,305.0 C116.3,327.5 117.8,357.5 122.0,380.0 C126.2,402.5 132.0,422.5 142.0,440.0 C152.0,457.5 166.0,474.0 182.0,485.0 C198.0,496.0 220.8,501.8 238.0,506.0 C255.2,510.2 269.3,510.0 285.0,510.0 C300.7,510.0 314.8,510.2 332.0,506.0 C349.2,501.8 372.5,495.7 388.0,485.0 C403.5,474.3 415.8,459.5 425.0,442.0 C434.2,424.5 439.5,402.8 443.0,380.0 C446.5,357.2 446.0,326.7 446.0,305.0 C446.0,283.3 446.0,268.3 443.0,250.0 C440.0,231.7 435.2,213.0 428.0,195.0 C420.8,177.0 411.0,155.2 400.0,142.0 C389.0,128.8 374.5,120.0 362.0,116.0 C349.5,112.0 334.0,120.7 325.0,118.0 C316.0,115.3 314.7,104.3 308.0,100.0 C301.3,95.7 292.7,92.0 285.0,92.0Z" fill="none" stroke="#a4a4a4" stroke-width="6"/><path d="M212,278 Q218,265 232,266 Q246,268 248,282 Z" fill="#de3a20"/><path d="M200,290 Q212,282 232,284 Q250,286 252,296 Q250,312 236,314 Q228,322 214,320 L208,328 L198,318 Q192,305 200,290Z" fill="#f6ee74"/><path d="M218,345 L226,342 L228,360 L222,372 L216,370 L220,355Z M222,230 L226,232 L224,250Z" fill="#f6ee74"/></g></g><text x="39.8" y="518.6" font-size="8" font-weight="bold" fill="#ece43c" letter-spacing="-0.35" font-family="'DejaVu Sans', sans-serif">Right</text><text x="199.4" y="518.6" font-size="8" font-weight="bold" fill="#ece43c" letter-spacing="-0.35" text-anchor="end" font-family="'DejaVu Sans', sans-serif">Left</text><text x="405.8" y="518.6" font-size="8" font-weight="bold" fill="#ece43c" letter-spacing="-0.35" font-family="'DejaVu Sans', sans-serif">Right</text><text x="565.4" y="518.6" font-size="8" font-weight="bold" fill="#ece43c" letter-spacing="-0.35" text-anchor="end" font-family="'DejaVu Sans', sans-serif">Left</text></g></svg>
</body></html>
